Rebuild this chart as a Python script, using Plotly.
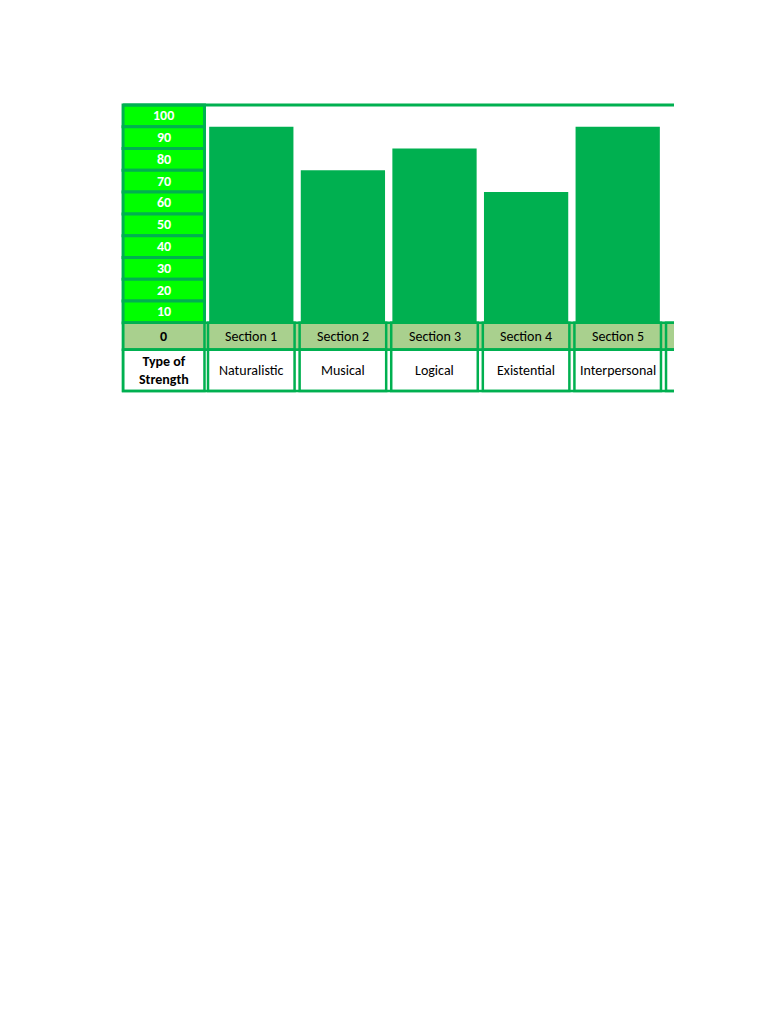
import plotly.graph_objects as go

# Values
sections = ['Section 1', 'Section 2', 'Section 3', 'Section 4', 'Section 5']
strengths = ['Naturalistic', 'Musical', 'Logical', 'Existential', 'Interpersonal']
scores = [90, 70, 80, 60, 90]
scale_labels = [100, 90, 80, 70, 60, 50, 40, 30, 20, 10]
zero_label = '0'
row_title = 'Type of<br>Strength'

GREEN = '#00B050'
LIME = '#00FF00'
PALE = '#A9D08E'
FONT = 'Calibri, Carlito, Lato, sans-serif'

# table layout in axis units
LEFT = (-0.40, 0.489)      # label column
CELL_W = 0.945
BAR_W = 0.92
ROW0 = (-12.45, 0)         # "0" / section row
ROW1 = (-31.3, -12.45)     # type of strength row
X_END = 6.5

cols = list(range(1, len(sections) + 1))

fig = go.Figure(go.Bar(
    x=cols, y=scores, width=BAR_W,
    marker=dict(color=GREEN, line=dict(width=0)),
    hoverinfo='skip',
))

shapes = []
annos = []


def rect(x0, x1, y0, y1, fill=None, lw=2.5):
    shapes.append(dict(type='rect', xref='x', yref='y', x0=x0, x1=x1, y0=y0, y1=y1,
                       fillcolor=fill if fill else 'rgba(0,0,0,0)',
                       line=dict(color=GREEN, width=lw), layer='above'))


def text(x, y, s, color='black', size=14):
    annos.append(dict(x=x, y=y, xref='x', yref='y', text=s, showarrow=False,
                      font=dict(family=FONT, size=size, color=color)))


left_mid = sum(LEFT) / 2

# scale column
for v in scale_labels:
    rect(LEFT[0], LEFT[1], v - 10, v, fill=LIME, lw=3)
    text(left_mid, v - 5, '<b>%d</b>' % v, color='white')

# top border line
shapes.append(dict(type='line', xref='x', yref='y', x0=LEFT[0], x1=X_END, y0=100, y1=100,
                   line=dict(color=GREEN, width=3), layer='above'))

# table rows (one extra column is cut off at the right edge)
for (y0, y1), fill in [(ROW0, PALE), (ROW1, 'white')]:
    rect(LEFT[0], X_END, y0, y1, fill=fill)
    rect(LEFT[0], LEFT[1], y0, y1)
    for i in range(1, len(sections) + 2):
        rect(i - CELL_W / 2, i + CELL_W / 2, y0, y1)

text(left_mid, sum(ROW0) / 2, '<b>%s</b>' % zero_label)
text(left_mid, sum(ROW1) / 2, '<b>%s</b>' % row_title)
for i, (sec, st) in enumerate(zip(sections, strengths), start=1):
    text(i, sum(ROW0) / 2, sec)
    text(i, sum(ROW1) / 2, st)

# page body adds 8px, so the figure is a little smaller than the window
fig.update_layout(
    width=760, height=1016,
    margin=dict(l=113, r=94, t=95, b=631),
    plot_bgcolor='white', paper_bgcolor='white',
    showlegend=False,
    shapes=shapes, annotations=annos,
    xaxis=dict(range=[-0.4225, 5.6146], visible=False, fixedrange=True),
    yaxis=dict(range=[-32.26, 100.92], visible=False, fixedrange=True),
)

fig.write_html("out.html")
